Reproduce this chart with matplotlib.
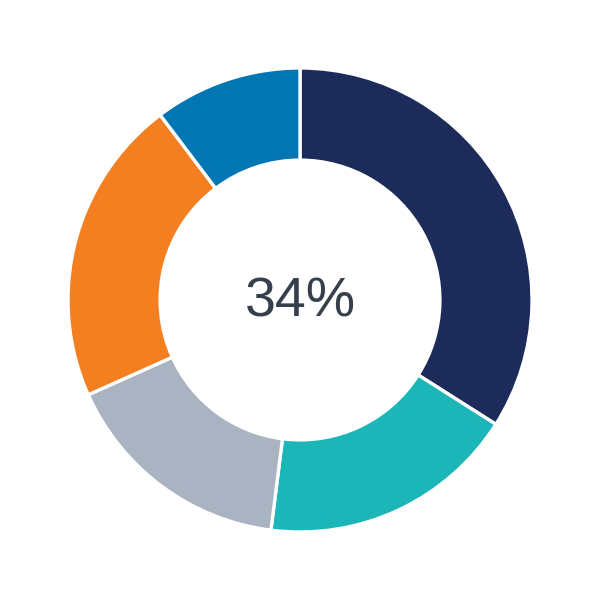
import matplotlib
matplotlib.use("Agg")
import matplotlib.pyplot as plt

# Share of each segment, clockwise from the top
labels = ["Navy", "Teal", "Gray", "Orange", "Blue"]
values = [34, 18.0, 16.3, 21.4, 10.3]
colors = ["#1c2b5a", "#1cb5b8", "#a9b3c1", "#f37f21", "#0275b3"]
center_text = "34%"

fig = plt.figure(figsize=(6, 6), dpi=100)
ax = fig.add_axes([0, 0, 1, 1])

ax.pie(values, colors=colors, startangle=90, counterclock=False,
       radius=1.0,
       wedgeprops=dict(width=0.397, edgecolor="white", linewidth=2.4))

ax.text(0, -0.01, center_text, ha="center", va="center", fontsize=40,
        family="Liberation Sans", color="#36404d")

lim = 300 / 232
ax.set_xlim(-lim, lim)
ax.set_ylim(-lim, lim)
ax.set_aspect("equal")
ax.axis("off")

fig.savefig("out.png", dpi=100, facecolor="white")
